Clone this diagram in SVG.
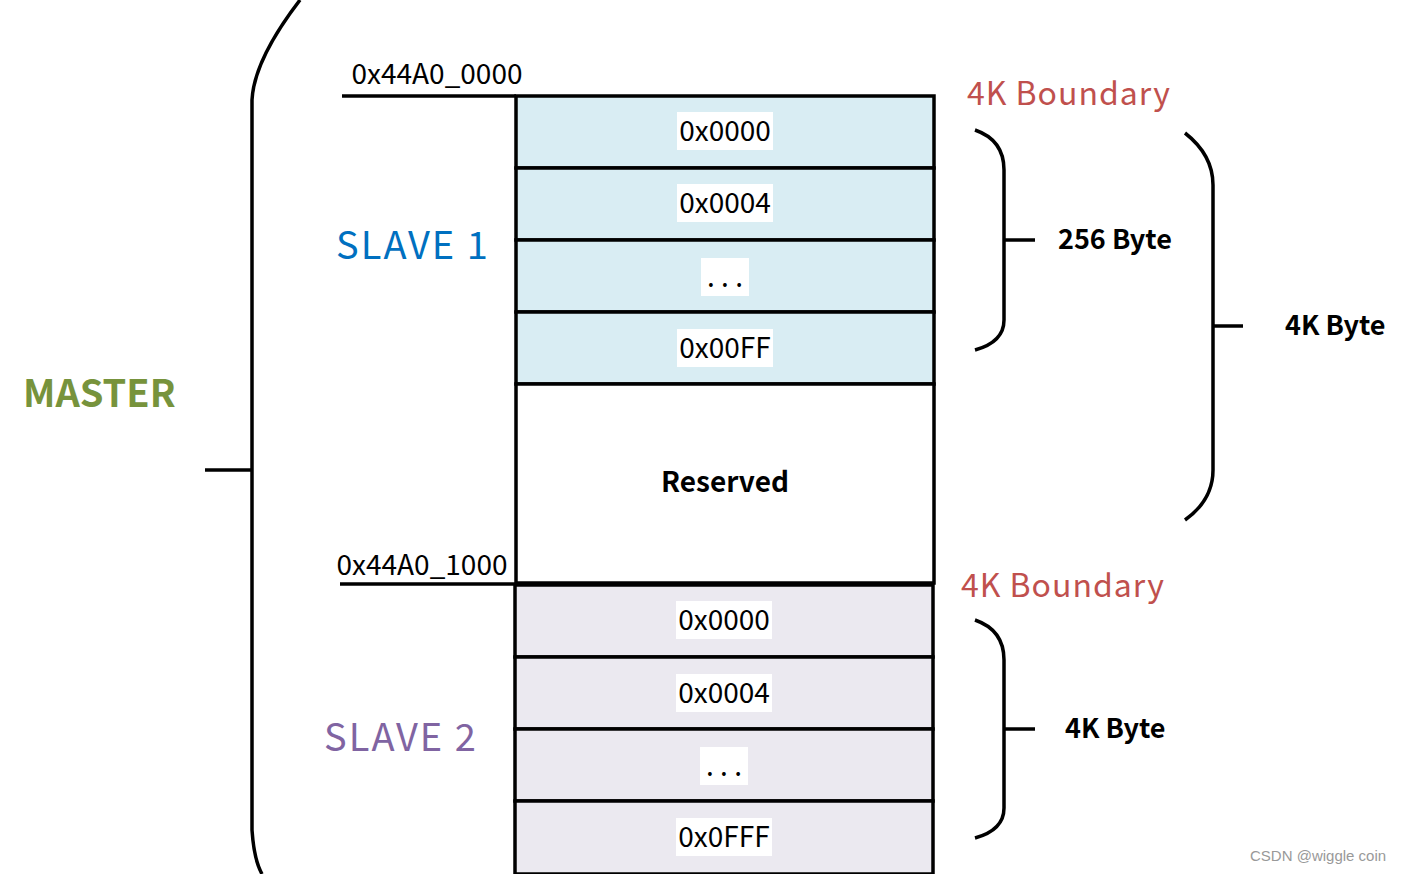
<svg xmlns="http://www.w3.org/2000/svg" width="1408" height="874" viewBox="0 0 1408 874">
<style>
.ln{stroke:#000;stroke-width:3.5;fill:none}
.c1{fill:#d9edf3;stroke:#000;stroke-width:3.5}
.c2{fill:#ebe9f0;stroke:#000;stroke-width:3.5}
.t{font-family:"Noto Sans CJK SC","Liberation Sans",sans-serif;font-size:28px;text-anchor:middle;fill:#000}
.lb{fill:#fff}
.r{fill:#c0504d;font-family:"Noto Sans CJK SC","Liberation Sans",sans-serif;font-size:32px;letter-spacing:1px}
.b{font-family:"Noto Sans CJK SC","Liberation Sans",sans-serif;font-size:27px;font-weight:bold}
</style>
<rect width="1408" height="874" fill="#fff"/>
<g id="connectors">
<path class="ln" d="M300,0 Q254,60 252,100 L252,830 Q254,860 262,874"/>
<line class="ln" x1="205" y1="470" x2="252" y2="470"/>
<line class="ln" x1="342" y1="96" x2="516" y2="96"/>
<line class="ln" x1="340" y1="584" x2="516" y2="584"/>
<path class="ln" d="M975,130 Q1004,140 1004,170 L1004,320 Q1004,342 975,350"/>
<line class="ln" x1="1004" y1="240" x2="1035" y2="240"/>
<path class="ln" d="M1185,133 Q1213,155 1213,185 L1213,470 Q1213,500 1185,520"/>
<line class="ln" x1="1213" y1="326" x2="1243" y2="326"/>
<path class="ln" d="M975,620 Q1004,630 1004,660 L1004,808 Q1004,830 975,838"/>
<line class="ln" x1="1004" y1="729" x2="1035" y2="729"/>
</g>
<g id="slave1">
<rect class="c1" x="516" y="96" width="418" height="72"/>
<rect class="c1" x="516" y="168" width="418" height="72"/>
<rect class="c1" x="516" y="240" width="418" height="72"/>
<rect class="c1" x="516" y="312" width="418" height="72"/>
<rect class="lb" x="677" y="112" width="96" height="38"/><text class="t" x="725" y="141">0x0000</text>
<rect class="lb" x="677" y="184" width="96" height="38"/><text class="t" x="725" y="213">0x0004</text>
<rect class="lb" x="701" y="258" width="48" height="38"/><text class="t" x="725" y="287">. . .</text>
<rect class="lb" x="677" y="329" width="96" height="38"/><text class="t" x="725" y="358">0x00FF</text>
</g>
<g id="reserved">
<rect x="516" y="384" width="418" height="199" fill="#fff" stroke="#000" stroke-width="3.5"/>
<text class="t" x="725" y="492" font-weight="bold" font-size="27">Reserved</text>
</g>
<g id="slave2">
<rect class="c2" x="515" y="585" width="418" height="72"/>
<rect class="c2" x="515" y="657" width="418" height="72"/>
<rect class="c2" x="515" y="729" width="418" height="72"/>
<rect class="c2" x="515" y="801" width="418" height="73"/>
<rect class="lb" x="676" y="601" width="96" height="38"/><text class="t" x="724" y="630">0x0000</text>
<rect class="lb" x="676" y="674" width="96" height="38"/><text class="t" x="724" y="703">0x0004</text>
<rect class="lb" x="700" y="747" width="48" height="38"/><text class="t" x="724" y="776">. . .</text>
<rect class="lb" x="676" y="818" width="96" height="38"/><text class="t" x="724" y="847">0x0FFF</text>
</g>
<g id="labels">
<text class="t" x="437" y="84" font-size="27">0x44A0_0000</text>
<text class="t" x="422" y="575" font-size="27">0x44A0_1000</text>
<text x="336" y="259" fill="#0070c0" font-family="Noto Sans CJK SC,Liberation Sans,sans-serif" font-size="38" letter-spacing="2">SLAVE  1</text>
<text x="324" y="751" fill="#8064a2" font-family="Noto Sans CJK SC,Liberation Sans,sans-serif" font-size="38" letter-spacing="2">SLAVE  2</text>
<text x="23" y="407" fill="#77933c" font-family="Noto Sans CJK SC,Liberation Sans,sans-serif" font-size="38" font-weight="bold">MASTER</text>
<text class="r" x="967" y="105">4K  Boundary</text>
<text class="r" x="961" y="597">4K  Boundary</text>
<text class="b" x="1058" y="249">256  Byte</text>
<text class="b" x="1285" y="335">4K  Byte</text>
<text class="b" x="1065" y="738">4K  Byte</text>
<text x="1250" y="861" fill="#999" font-family="Liberation Sans,sans-serif" font-size="15">CSDN @wiggle coin</text>
</g>
</svg>
